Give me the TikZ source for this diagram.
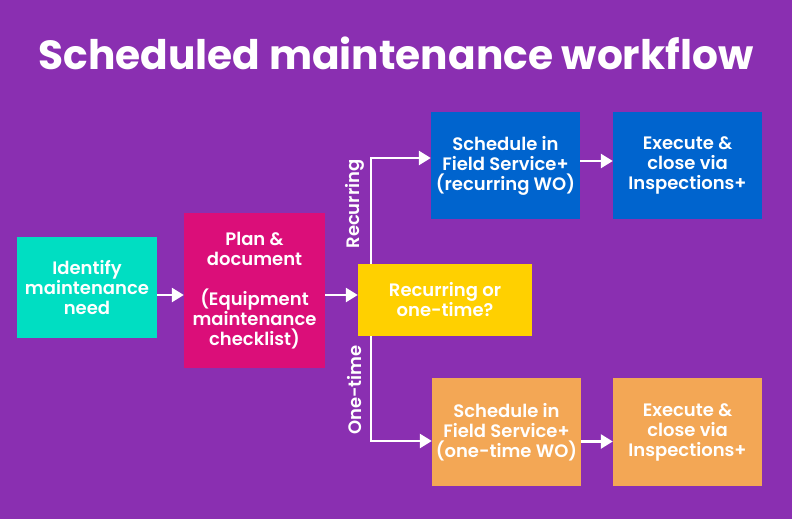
\documentclass[tikz,border=0pt]{standalone}
\usepackage{fontspec}
\setmainfont{Poppins}[BoldFont=* SemiBold]
\newfontfamily\titlefont{Poppins}[UprightFont=* Bold]
\usetikzlibrary{arrows.meta,positioning}
\definecolor{bgpurple}{HTML}{8A2FB1}
\definecolor{cteal}{HTML}{00DEC2}
\definecolor{cmag}{HTML}{DB0E79}
\definecolor{cyel}{HTML}{FFD000}
\definecolor{cblue}{HTML}{0064CE}
\definecolor{corange}{HTML}{F3A755}
\tikzset{
  boxs/.style={draw=none, inner sep=0pt, align=center, text=white,
    font=\fontsize{18}{20}\selectfont\bfseries},
  flow/.style={draw=white, line width=2.6pt, -{Triangle[length=12pt,width=14pt]}},
  lbl/.style={text=white, font=\fontsize{18}{20}\selectfont\bfseries, rotate=90, inner sep=0pt},
}
\begin{document}
\begin{tikzpicture}[x=1pt,y=-1pt]
\fill[bgpurple] (0,0) rectangle (792,519);
\useasboundingbox (0,0) rectangle (792,519);
\node[text=white, font=\fontsize{40.7}{48}\selectfont\titlefont, anchor=base] (title) at (396,70) {Scheduled maintenance workflow};

\node[boxs, fill=cteal, minimum width=140pt, minimum height=101pt] (identify) at (87,287.5) {Identify\\maintenance\\need};
\node[boxs, fill=cmag, minimum width=141pt, minimum height=155pt] (plan) at (254.5,290.5) {Plan \&\\document\\[20pt](Equipment\\maintenance\\checklist)};
\node[boxs, fill=cyel, minimum width=174pt, minimum height=72pt] (decide) at (445,300) {Recurring or\\one-time?};
\node[boxs, fill=cblue, minimum width=149pt, minimum height=107pt] (sched1) at (505.5,165.5) {Schedule in\\Field Service+\\(recurring WO)};
\node[boxs, fill=cblue, minimum width=149pt, minimum height=107pt] (exec1) at (687.5,165.5) {Execute \&\\close via\\Inspections+};
\node[boxs, fill=corange, minimum width=149pt, minimum height=108pt] (sched2) at (506.5,432) {Schedule in\\Field Service+\\(one-time WO)};
\node[boxs, fill=corange, minimum width=149pt, minimum height=108pt] (exec2) at (687.5,432) {Execute \&\\close via\\Inspections+};

\coordinate (up) at ([xshift=13pt]decide.north west);
\coordinate (dn) at ([xshift=13pt]decide.south west);

\draw[flow] ([yshift=-7.5pt]identify.east) -- ([yshift=-7.5pt]identify.east -| plan.west);
\draw[flow] ([yshift=-4.5pt]plan.east) -- ([yshift=-4.5pt]plan.east -| decide.west);
\draw[flow] (up) |- ([yshift=7.5pt]sched1.west);
\draw[flow] (dn) |- ([yshift=-9pt]sched2.west);
\draw[flow] ([yshift=4.5pt]sched1.east) -- ([yshift=4.5pt]exec1.west);
\draw[flow] ([yshift=-9.5pt]sched2.east) -- ([yshift=-9.5pt]exec2.west);

\node[lbl] (lrec) at (355,204) {Recurring};
\node[lbl] (lone) at (355,390) {One-time};
\end{tikzpicture}
\end{document}
